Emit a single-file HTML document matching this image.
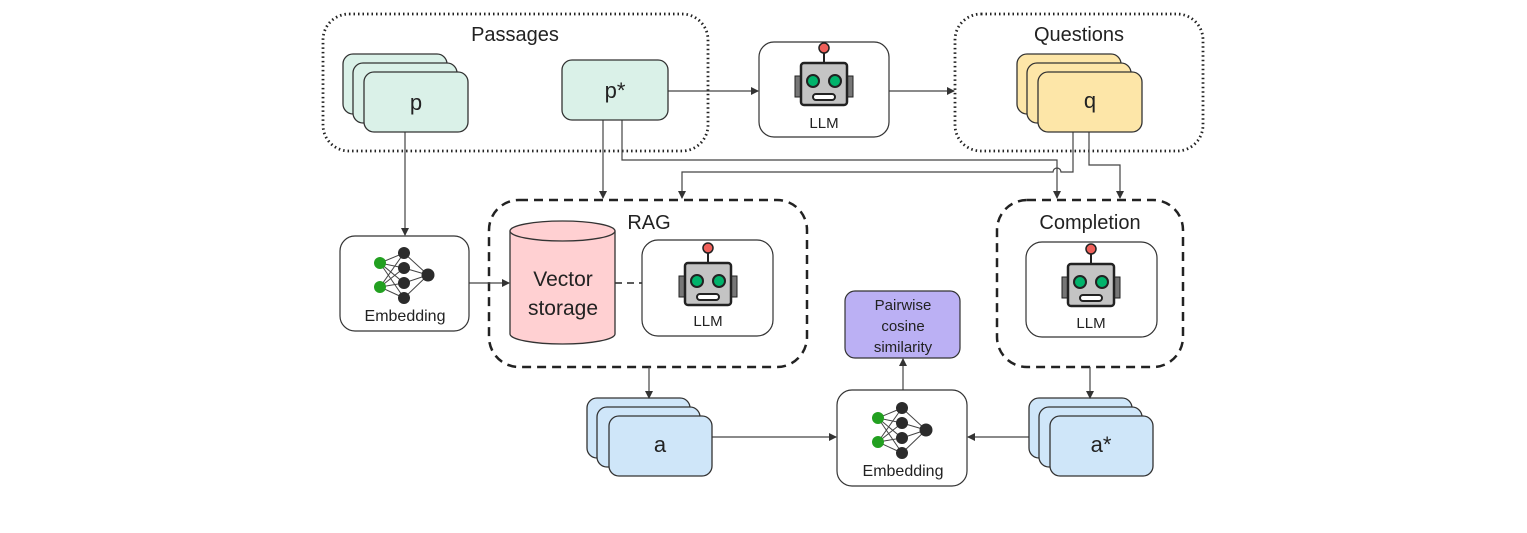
<!DOCTYPE html>
<html><head><meta charset="utf-8"><style>
html,body{margin:0;padding:0;background:#fff;}
svg{display:block;font-family:"Liberation Sans","DejaVu Sans",sans-serif;}
</style></head><body>
<svg width="1527" height="533" viewBox="0 0 1527 533" xmlns="http://www.w3.org/2000/svg">
<defs>
<marker id="ar" markerWidth="8" markerHeight="8" refX="7" refY="4" orient="auto" markerUnits="userSpaceOnUse">
<path d="M0,0 L8,4 L0,8 z" fill="#333"/></marker>
<g id="robot">
<line x1="0" y1="-36" x2="0" y2="-21" stroke="#222" stroke-width="2"/>
<circle cx="0" cy="-36" r="5" fill="#f0605a" stroke="#222" stroke-width="1.5"/>
<rect x="-29" y="-8" width="7" height="21" fill="#777" stroke="#222" stroke-width="1"/>
<rect x="22" y="-8" width="7" height="21" fill="#777" stroke="#222" stroke-width="1"/>
<rect x="-23" y="-21" width="46" height="42" rx="3" fill="#c4c4c4" stroke="#222" stroke-width="2.5"/>
<circle cx="-11" cy="-3" r="6" fill="#00b36b" stroke="#222" stroke-width="2"/>
<circle cx="11" cy="-3" r="6" fill="#00b36b" stroke="#222" stroke-width="2"/>
<rect x="-11" y="10" width="22" height="6" rx="3" fill="#fff" stroke="#222" stroke-width="2"/>
</g>
<g id="nn">
<g stroke="#444" stroke-width="1">
<line x1="-24" y1="-12" x2="0" y2="-22"/><line x1="-24" y1="-12" x2="0" y2="-7"/><line x1="-24" y1="-12" x2="0" y2="8"/><line x1="-24" y1="-12" x2="0" y2="23"/>
<line x1="-24" y1="12" x2="0" y2="-22"/><line x1="-24" y1="12" x2="0" y2="-7"/><line x1="-24" y1="12" x2="0" y2="8"/><line x1="-24" y1="12" x2="0" y2="23"/>
<line x1="0" y1="-22" x2="24" y2="0"/><line x1="0" y1="-7" x2="24" y2="0"/><line x1="0" y1="8" x2="24" y2="0"/><line x1="0" y1="23" x2="24" y2="0"/>
</g>
<circle cx="-24" cy="-12" r="6" fill="#22a020"/><circle cx="-24" cy="12" r="6" fill="#22a020"/>
<circle cx="0" cy="-22" r="6" fill="#2b2b2b"/><circle cx="0" cy="-7" r="6" fill="#2b2b2b"/><circle cx="0" cy="8" r="6" fill="#2b2b2b"/><circle cx="0" cy="23" r="6" fill="#2b2b2b"/>
<circle cx="24" cy="0" r="6.5" fill="#2b2b2b"/>
</g>
</defs>

<!-- containers -->
<rect x="323" y="14" width="385" height="137" rx="26" fill="none" stroke="#222" stroke-width="2.8" stroke-dasharray="1.5 3"/>
<text x="515" y="41" font-size="20" text-anchor="middle" fill="#222">Passages</text>
<rect x="955" y="14" width="248" height="137" rx="26" fill="none" stroke="#222" stroke-width="2.8" stroke-dasharray="1.5 3"/>
<text x="1079" y="41" font-size="20" text-anchor="middle" fill="#222">Questions</text>
<rect x="489" y="200" width="318" height="167" rx="30" fill="none" stroke="#222" stroke-width="2.5" stroke-dasharray="9 6"/>
<text x="649" y="229" font-size="20" text-anchor="middle" fill="#222">RAG</text>
<rect x="997" y="200" width="186" height="167" rx="30" fill="none" stroke="#222" stroke-width="2.5" stroke-dasharray="9 6"/>
<text x="1090" y="229" font-size="20" text-anchor="middle" fill="#222">Completion</text>

<!-- connectors -->
<g stroke="#444" stroke-width="1.2" fill="none">
<line x1="668" y1="91" x2="758" y2="91" marker-end="url(#ar)"/>
<line x1="889" y1="91" x2="954" y2="91" marker-end="url(#ar)"/>
<line x1="405" y1="132" x2="405" y2="235" marker-end="url(#ar)"/>
<line x1="603" y1="120" x2="603" y2="198" marker-end="url(#ar)"/>
<path d="M622,120 V160 H1057 V198" marker-end="url(#ar)"/>
<path d="M1073,132 V172 H1061 a4,4 0 0 0 -8,0 H682 V198" marker-end="url(#ar)"/>
<path d="M1089,132 V165 H1120 V198" marker-end="url(#ar)"/>
<line x1="469" y1="283" x2="509" y2="283" marker-end="url(#ar)"/>
<line x1="615" y1="283" x2="642" y2="283" stroke-dasharray="7 5" stroke-width="1.8"/>
<line x1="903" y1="390" x2="903" y2="359" marker-end="url(#ar)"/>
<line x1="712" y1="437" x2="836" y2="437" marker-end="url(#ar)"/>
<line x1="1029" y1="437" x2="968" y2="437" marker-end="url(#ar)"/>
</g>

<!-- p stack -->
<g stroke="#333" stroke-width="1.3" fill="#daf1e8">
<rect x="343" y="54" width="104" height="60" rx="10"/>
<rect x="353" y="63" width="104" height="60" rx="10"/>
<rect x="364" y="72" width="104" height="60" rx="10"/>
<rect x="562" y="60" width="106" height="60" rx="10"/>
</g>
<text x="416" y="110" font-size="22" text-anchor="middle" fill="#222">p</text>
<text x="615" y="98" font-size="22" text-anchor="middle" fill="#222">p*</text>

<!-- q stack -->
<g stroke="#333" stroke-width="1.3" fill="#fde6a8">
<rect x="1017" y="54" width="104" height="60" rx="10"/>
<rect x="1027" y="63" width="104" height="60" rx="10"/>
<rect x="1038" y="72" width="104" height="60" rx="10"/>
</g>
<text x="1090" y="108" font-size="22" text-anchor="middle" fill="#222">q</text>

<!-- top LLM -->
<rect x="759" y="42" width="130" height="95" rx="15" fill="#fff" stroke="#333" stroke-width="1.2"/>
<use href="#robot" x="824" y="84"/>
<text x="824" y="128" font-size="15" text-anchor="middle" fill="#222">LLM</text>

<!-- embedding top -->
<rect x="340" y="236" width="129" height="95" rx="15" fill="#fff" stroke="#333" stroke-width="1.2"/>
<use href="#nn" x="404" y="275"/>
<text x="405" y="321" font-size="16" text-anchor="middle" fill="#222">Embedding</text>

<!-- cylinder -->
<path d="M510,231 V334 A52.5,10 0 0 0 615,334 V231" fill="#ffd0d2" stroke="#333" stroke-width="1.3"/>
<ellipse cx="562.5" cy="231" rx="52.5" ry="10" fill="#ffd0d2" stroke="#333" stroke-width="1.3"/>
<text x="563" y="286" font-size="21" text-anchor="middle" fill="#222">Vector</text>
<text x="563" y="315" font-size="21" text-anchor="middle" fill="#222">storage</text>

<!-- RAG LLM -->
<rect x="642" y="240" width="131" height="96" rx="16" fill="#fff" stroke="#333" stroke-width="1.2"/>
<use href="#robot" x="708" y="284"/>
<text x="708" y="326" font-size="15" text-anchor="middle" fill="#222">LLM</text>

<!-- Completion LLM -->
<rect x="1026" y="242" width="131" height="95" rx="16" fill="#fff" stroke="#333" stroke-width="1.2"/>
<use href="#robot" x="1091" y="285"/>
<text x="1091" y="328" font-size="15" text-anchor="middle" fill="#222">LLM</text>

<!-- Pairwise -->
<rect x="845" y="291" width="115" height="67" rx="10" fill="#bbb0f4" stroke="#333" stroke-width="1.2"/>
<text x="903" y="310" font-size="15" text-anchor="middle" fill="#222">Pairwise</text>
<text x="903" y="331" font-size="15" text-anchor="middle" fill="#222">cosine</text>
<text x="903" y="352" font-size="15" text-anchor="middle" fill="#222">similarity</text>

<!-- bottom embedding -->
<rect x="837" y="390" width="130" height="96" rx="15" fill="#fff" stroke="#333" stroke-width="1.2"/>
<use href="#nn" x="902" y="430"/>
<text x="903" y="476" font-size="16" text-anchor="middle" fill="#222">Embedding</text>

<!-- a stack -->
<g stroke="#333" stroke-width="1.3" fill="#cfe6f9">
<rect x="587" y="398" width="103" height="60" rx="10"/>
<rect x="597" y="407" width="103" height="60" rx="10"/>
<rect x="609" y="416" width="103" height="60" rx="10"/>
<rect x="1029" y="398" width="103" height="60" rx="10"/>
<rect x="1039" y="407" width="103" height="60" rx="10"/>
<rect x="1050" y="416" width="103" height="60" rx="10"/>
</g>
<text x="660" y="452" font-size="22" text-anchor="middle" fill="#222">a</text>
<text x="1101" y="452" font-size="22" text-anchor="middle" fill="#222">a*</text>

<!-- arrows into a stacks (on top) -->
<g stroke="#444" stroke-width="1.2" fill="none">
<line x1="649" y1="367" x2="649" y2="398" marker-end="url(#ar)"/>
<line x1="1090" y1="367" x2="1090" y2="398" marker-end="url(#ar)"/>
</g>
</svg>
</body></html>
